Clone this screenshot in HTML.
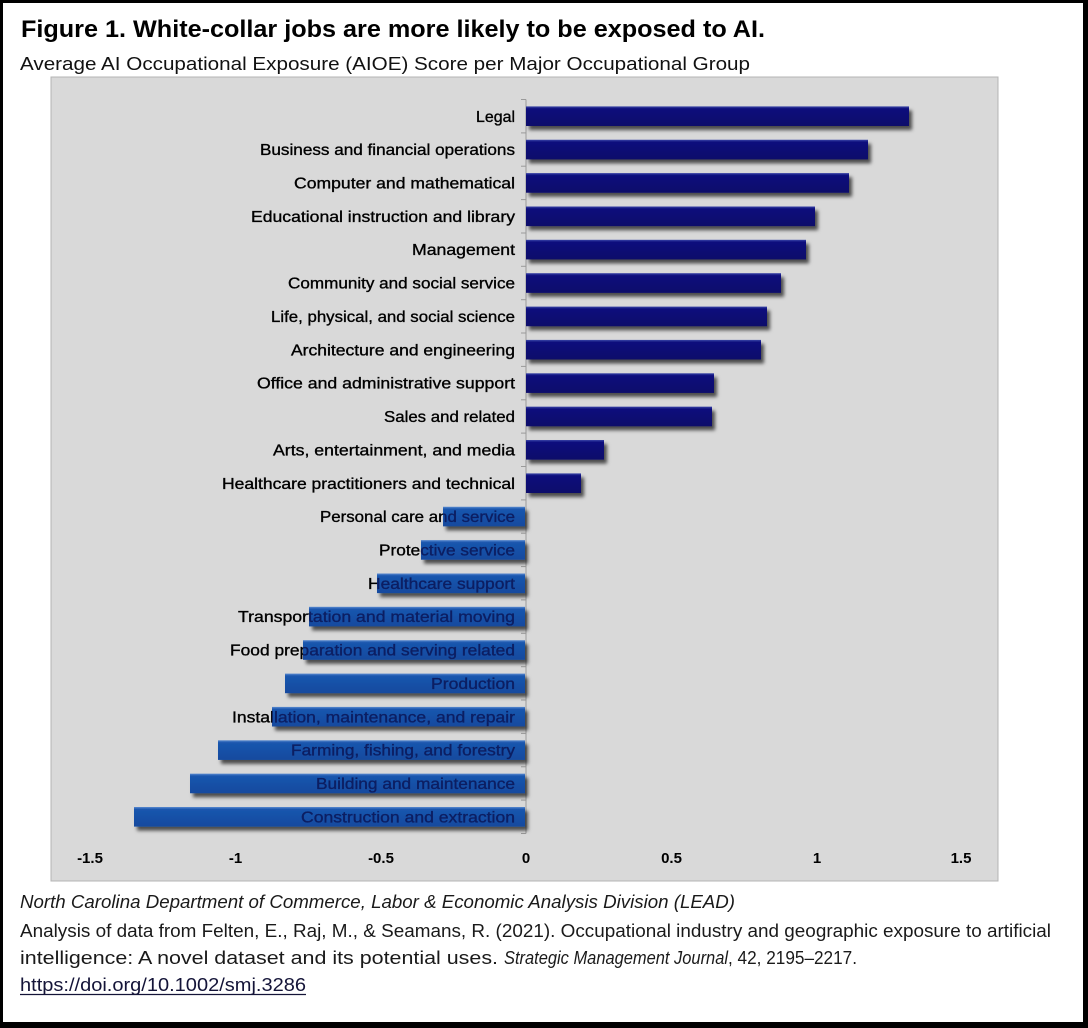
<!DOCTYPE html>
<html><head><meta charset="utf-8"><style>
html,body{margin:0;padding:0;background:#000;}
svg{display:block;}
</style></head><body>
<svg width="1088" height="1028" viewBox="0 0 1088 1028" xmlns="http://www.w3.org/2000/svg" font-family="Liberation Sans, Arial, sans-serif">
<defs>
<linearGradient id="gp" x1="0" y1="0" x2="0" y2="1">
<stop offset="0" stop-color="#3a44a8"/><stop offset="0.12" stop-color="#0d0f7c"/><stop offset="1" stop-color="#08086a"/>
</linearGradient>
<linearGradient id="gn" x1="0" y1="0" x2="0" y2="1">
<stop offset="0" stop-color="#5a8ad0"/><stop offset="0.12" stop-color="#1a56ae"/><stop offset="1" stop-color="#124a9e"/>
</linearGradient>
<filter id="sh" x="-10%" y="-40%" width="120%" height="190%">
<feDropShadow dx="3" dy="4" stdDeviation="1.8" flood-color="#000" flood-opacity="0.65"/>
</filter>
<clipPath id="cn">
<rect x="443" y="506.75" width="82" height="19.6"/>
<rect x="421" y="540.1" width="104" height="19.6"/>
<rect x="377" y="573.5" width="148" height="19.6"/>
<rect x="309" y="606.8" width="216" height="19.6"/>
<rect x="303" y="640.2" width="222" height="19.6"/>
<rect x="285" y="673.6" width="240" height="19.6"/>
<rect x="272" y="706.9" width="253" height="19.6"/>
<rect x="218" y="740.3" width="307" height="19.6"/>
<rect x="190" y="773.65" width="335" height="19.6"/>
<rect x="134" y="807.0" width="391" height="19.6"/>
</clipPath>
</defs>
<rect x="0" y="0" width="1088" height="1028" fill="#000"/>
<rect x="3" y="3" width="1080" height="1019" fill="#fff"/>

<text x="21" y="37" font-size="24" font-weight="bold" fill="#000" textLength="744" lengthAdjust="spacingAndGlyphs">Figure 1. White-collar jobs are more likely to be exposed to AI.</text>
<text x="20" y="70" font-size="18.5" fill="#111" textLength="730" lengthAdjust="spacingAndGlyphs">Average AI Occupational Exposure (AIOE) Score per Major Occupational Group</text>

<rect x="51" y="77" width="947" height="804" fill="#d9d9d9" stroke="#b4b4b4" stroke-width="1"/>

<g font-size="16" fill="#000" stroke="#000" stroke-width="0.35" text-anchor="end">
<text x="515" y="121.8" textLength="39" lengthAdjust="spacingAndGlyphs">Legal</text>
<text x="515" y="155.15" textLength="255" lengthAdjust="spacingAndGlyphs">Business and financial operations</text>
<text x="515" y="188.5" textLength="221" lengthAdjust="spacingAndGlyphs">Computer and mathematical</text>
<text x="515" y="221.9" textLength="264" lengthAdjust="spacingAndGlyphs">Educational instruction and library</text>
<text x="515" y="255.2" textLength="103" lengthAdjust="spacingAndGlyphs">Management</text>
<text x="515" y="288.6" textLength="227" lengthAdjust="spacingAndGlyphs">Community and social service</text>
<text x="515" y="322.0" textLength="244" lengthAdjust="spacingAndGlyphs">Life, physical, and social science</text>
<text x="515" y="355.3" textLength="224" lengthAdjust="spacingAndGlyphs">Architecture and engineering</text>
<text x="515" y="388.7" textLength="258" lengthAdjust="spacingAndGlyphs">Office and administrative support</text>
<text x="515" y="422.05" textLength="131" lengthAdjust="spacingAndGlyphs">Sales and related</text>
<text x="515" y="455.4" textLength="242" lengthAdjust="spacingAndGlyphs">Arts, entertainment, and media</text>
<text x="515" y="488.8" textLength="293" lengthAdjust="spacingAndGlyphs">Healthcare practitioners and technical</text>
<text x="515" y="522.15" textLength="195" lengthAdjust="spacingAndGlyphs">Personal care and service</text>
<text x="515" y="555.5" textLength="136" lengthAdjust="spacingAndGlyphs">Protective service</text>
<text x="515" y="588.9" textLength="147" lengthAdjust="spacingAndGlyphs">Healthcare support</text>
<text x="515" y="622.2" textLength="277" lengthAdjust="spacingAndGlyphs">Transportation and material moving</text>
<text x="515" y="655.6" textLength="285" lengthAdjust="spacingAndGlyphs">Food preparation and serving related</text>
<text x="515" y="689.0" textLength="84" lengthAdjust="spacingAndGlyphs">Production</text>
<text x="515" y="722.3" textLength="283" lengthAdjust="spacingAndGlyphs">Installation, maintenance, and repair</text>
<text x="515" y="755.7" textLength="224" lengthAdjust="spacingAndGlyphs">Farming, fishing, and forestry</text>
<text x="515" y="789.05" textLength="199" lengthAdjust="spacingAndGlyphs">Building and maintenance</text>
<text x="515" y="822.4" textLength="214" lengthAdjust="spacingAndGlyphs">Construction and extraction</text>
</g>

<!-- axis -->
<g stroke="#9a9a9a" stroke-width="1">
<line x1="526" y1="99.5" x2="526" y2="833.5"/>
<line x1="521" y1="99.5" x2="526" y2="99.5"/><line x1="521" y1="132.9" x2="526" y2="132.9"/><line x1="521" y1="166.2" x2="526" y2="166.2"/><line x1="521" y1="199.6" x2="526" y2="199.6"/><line x1="521" y1="233.0" x2="526" y2="233.0"/><line x1="521" y1="266.3" x2="526" y2="266.3"/><line x1="521" y1="299.7" x2="526" y2="299.7"/><line x1="521" y1="333.0" x2="526" y2="333.0"/><line x1="521" y1="366.4" x2="526" y2="366.4"/><line x1="521" y1="399.8" x2="526" y2="399.8"/><line x1="521" y1="433.1" x2="526" y2="433.1"/><line x1="521" y1="466.5" x2="526" y2="466.5"/><line x1="521" y1="499.9" x2="526" y2="499.9"/><line x1="521" y1="533.2" x2="526" y2="533.2"/><line x1="521" y1="566.6" x2="526" y2="566.6"/><line x1="521" y1="599.9" x2="526" y2="599.9"/><line x1="521" y1="633.3" x2="526" y2="633.3"/><line x1="521" y1="666.7" x2="526" y2="666.7"/><line x1="521" y1="700.0" x2="526" y2="700.0"/><line x1="521" y1="733.4" x2="526" y2="733.4"/><line x1="521" y1="766.8" x2="526" y2="766.8"/><line x1="521" y1="800.1" x2="526" y2="800.1"/><line x1="521" y1="833.5" x2="526" y2="833.5"/>
</g>

<!-- positive bars -->
<g fill="url(#gp)" filter="url(#sh)">
<rect x="526" y="106.4" width="383" height="19.6"/>
<rect x="526" y="139.75" width="342" height="19.6"/>
<rect x="526" y="173.1" width="323" height="19.6"/>
<rect x="526" y="206.5" width="289" height="19.6"/>
<rect x="526" y="239.8" width="280" height="19.6"/>
<rect x="526" y="273.2" width="255" height="19.6"/>
<rect x="526" y="306.6" width="241" height="19.6"/>
<rect x="526" y="339.9" width="235" height="19.6"/>
<rect x="526" y="373.3" width="188" height="19.6"/>
<rect x="526" y="406.65" width="186" height="19.6"/>
<rect x="526" y="440.0" width="78" height="19.6"/>
<rect x="526" y="473.4" width="55" height="19.6"/>
</g>
<!-- negative bars -->
<g fill="url(#gn)" filter="url(#sh)">
<rect x="443" y="506.75" width="82" height="19.6"/>
<rect x="421" y="540.1" width="104" height="19.6"/>
<rect x="377" y="573.5" width="148" height="19.6"/>
<rect x="309" y="606.8" width="216" height="19.6"/>
<rect x="303" y="640.2" width="222" height="19.6"/>
<rect x="285" y="673.6" width="240" height="19.6"/>
<rect x="272" y="706.9" width="253" height="19.6"/>
<rect x="218" y="740.3" width="307" height="19.6"/>
<rect x="190" y="773.65" width="335" height="19.6"/>
<rect x="134" y="807.0" width="391" height="19.6"/>
</g>
<!-- labels seen through negative bars -->
<g clip-path="url(#cn)" font-size="16" fill="#0c1e62" stroke="#0c1e62" stroke-width="0.35" text-anchor="end">
<text x="515" y="522.15" textLength="195" lengthAdjust="spacingAndGlyphs">Personal care and service</text>
<text x="515" y="555.5" textLength="136" lengthAdjust="spacingAndGlyphs">Protective service</text>
<text x="515" y="588.9" textLength="147" lengthAdjust="spacingAndGlyphs">Healthcare support</text>
<text x="515" y="622.2" textLength="277" lengthAdjust="spacingAndGlyphs">Transportation and material moving</text>
<text x="515" y="655.6" textLength="285" lengthAdjust="spacingAndGlyphs">Food preparation and serving related</text>
<text x="515" y="689.0" textLength="84" lengthAdjust="spacingAndGlyphs">Production</text>
<text x="515" y="722.3" textLength="283" lengthAdjust="spacingAndGlyphs">Installation, maintenance, and repair</text>
<text x="515" y="755.7" textLength="224" lengthAdjust="spacingAndGlyphs">Farming, fishing, and forestry</text>
<text x="515" y="789.05" textLength="199" lengthAdjust="spacingAndGlyphs">Building and maintenance</text>
<text x="515" y="822.4" textLength="214" lengthAdjust="spacingAndGlyphs">Construction and extraction</text>
</g>

<!-- x tick labels -->
<g font-size="15" font-weight="bold" fill="#000" text-anchor="middle">
<text x="90" y="863">-1.5</text>
<text x="235.5" y="863">-1</text>
<text x="381" y="863">-0.5</text>
<text x="526" y="863">0</text>
<text x="671.5" y="863">0.5</text>
<text x="817" y="863">1</text>
<text x="961" y="863">1.5</text>
</g>

<!-- footer -->
<g font-size="18" fill="#1a1a1a">
<text x="20" y="908" font-style="italic" textLength="715" lengthAdjust="spacingAndGlyphs">North Carolina Department of Commerce, Labor &amp; Economic Analysis Division (LEAD)</text>
<text x="20" y="937" textLength="1031" lengthAdjust="spacingAndGlyphs">Analysis of data from Felten, E., Raj, M., &amp; Seamans, R. (2021). Occupational industry and geographic exposure to artificial</text>
<text x="20" y="964" textLength="478" lengthAdjust="spacingAndGlyphs">intelligence: A novel dataset and its potential uses.</text>
<text x="504" y="964" font-style="italic" textLength="224" lengthAdjust="spacingAndGlyphs">Strategic Management Journal</text>
<text x="728" y="964" textLength="129" lengthAdjust="spacingAndGlyphs">, 42, 2195–2217.</text>
<text x="20" y="991" fill="#141438" textLength="286" lengthAdjust="spacingAndGlyphs">https://doi.org/10.1002/smj.3286</text>
<line x1="20" y1="994.5" x2="306" y2="994.5" stroke="#141438" stroke-width="1.2"/>
</g>
</svg>
</body></html>
